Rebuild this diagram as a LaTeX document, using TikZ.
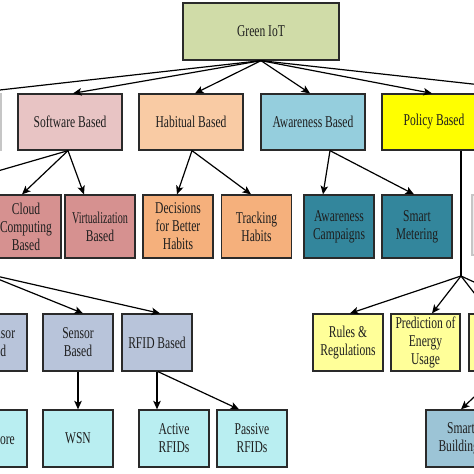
\documentclass[tikz,border=0pt]{standalone}
\usepackage{fontspec}
\setmainfont{Liberation Serif}[FakeStretch=0.7]
\usetikzlibrary{arrows.meta}
\definecolor{boxline}{HTML}{2A2A2A}
\definecolor{txt}{HTML}{1E1E1E}
\definecolor{cgreen}{HTML}{D0DCA8}
\definecolor{cpink}{HTML}{E8C4C4}
\definecolor{cpeach}{HTML}{F9CBA4}
\definecolor{cltblue}{HTML}{95CEDD}
\definecolor{cyellow}{HTML}{FFFF00}
\definecolor{crose}{HTML}{D69190}
\definecolor{corange}{HTML}{F5B07C}
\definecolor{cteal}{HTML}{33869C}
\definecolor{cgreyblue}{HTML}{B8C4DA}
\definecolor{ccyan}{HTML}{B9EEF1}
\definecolor{cltyellow}{HTML}{FFFF99}
\definecolor{csteel}{HTML}{9CC4D6}
\definecolor{cgrey}{HTML}{EDEDED}
\begin{document}
\begin{tikzpicture}[x=1pt,y=-1pt,
  box/.style={draw=boxline, line width=1.3pt, align=center, inner sep=0pt,
    text=txt, font=\fontsize{16.5}{18}\selectfont},
  faint/.style={draw=gray!45, line width=1.3pt, fill=cgrey, inner sep=0pt},
  arr/.style={line width=1.2pt, -{Stealth[length=8.5pt,width=7.5pt,inset=2pt]}},
  ln/.style={line width=1.2pt}]
\useasboundingbox (0,0) rectangle (474,474);
\clip (0,0) rectangle (474,474);
\fill[white] (0,0) rectangle (474,474);

% root
\node[box, fill=cgreen, minimum width=156pt, minimum height=57pt] (g) at (261,31.5) {Green IoT};

% row 2
\node[faint, minimum width=104pt, minimum height=56pt] (hw) at (-51,122) {};
\node[box, fill=cpink, minimum width=104pt, minimum height=56pt] (sw) at (70,122) {Software Based};
\node[box, fill=cpeach, minimum width=104pt, minimum height=56pt] (hab) at (191,122) {Habitual Based};
\node[box, fill=cltblue, minimum width=104pt, minimum height=56pt] (aw) at (313,122) {Awareness Based};
\node[box, fill=cyellow, minimum width=104pt, minimum height=56pt] (pol) at (434,122) {Policy Based};
\coordinate (rt2) at (563,94);

% row 3
\node[box, fill=crose, minimum width=70pt, minimum height=63pt] (cloud) at (26,226.5) {Cloud\\Computing\\Based};
\node[box, fill=crose, minimum width=70pt, minimum height=63pt] (virt) at (100,226.5) {\scalebox{0.88}[1]{Virtualization}\\Based};
\node[box, fill=corange, minimum width=70pt, minimum height=63pt] (dec) at (178,226.5) {Decisions\\for Better\\Habits};
\node[box, fill=corange, minimum width=70pt, minimum height=63pt] (track) at (256.5,226.5) {Tracking\\Habits};
\node[box, fill=cteal, minimum width=70pt, minimum height=63pt] (ac) at (339,226.5) {Awareness\\Campaigns};
\node[box, fill=cteal, minimum width=70pt, minimum height=63pt] (sm) at (417,226.5) {Smart\\Metering};
\node[faint, minimum width=70pt, minimum height=60pt] (gr3) at (507,225) {};
\coordinate (swl) at (-85,195);

% row 4
\node[box, fill=cgreyblue, minimum width=70pt, minimum height=57pt] (bio) at (-8,342.5) {Biosensor\\Based};
\node[box, fill=cgreyblue, minimum width=70pt, minimum height=57pt] (sens) at (78,342.5) {Sensor\\Based};
\node[box, fill=cgreyblue, minimum width=70pt, minimum height=57pt] (rfid) at (157,342.5) {RFID Based};
\node[box, fill=cltyellow, minimum width=70pt, minimum height=57pt] (rules) at (348,342.5) {Rules \&\\Regulations};
\node[box, fill=cltyellow, minimum width=69pt, minimum height=57pt] (pred) at (425.5,342.5) {Prediction of\\Energy\\Usage};
\node[box, fill=cltyellow, minimum width=70pt, minimum height=57pt] (yp) at (504,342.5) {};
\coordinate (hf) at (-17,273);
\coordinate (pf) at (461,276);
\coordinate (pr) at (543,314);

% row 5
\node[box, fill=ccyan, minimum width=70pt, minimum height=57pt] (multi) at (-8,438.5) {Multicore};
\node[box, fill=ccyan, minimum width=70pt, minimum height=57pt] (wsn) at (78,438.5) {WSN};
\node[box, fill=ccyan, minimum width=70pt, minimum height=57pt] (act) at (174,438.5) {Active\\RFIDs};
\node[box, fill=ccyan, minimum width=70pt, minimum height=57pt] (pas) at (252,438.5) {Passive\\RFIDs};
\node[box, fill=csteel, minimum width=70pt, minimum height=57pt] (sb) at (461,438.5) {Smart\\Buildings};

% connectors from root
\draw[arr] (g.south) -- ([xshift=21pt]hw.north);
\draw[arr] (g.south) -- ([xshift=3pt]sw.north);
\draw[arr] (g.south) -- ([xshift=4pt]hab.north);
\draw[arr] (g.south) -- ([xshift=-3pt]aw.north);
\draw[arr] (g.south) -- ([xshift=-2pt]pol.north);
\draw[arr] (g.south) -- (rt2);

% software
\draw[arr] ([xshift=-2pt]sw.south) -- (swl);
\draw[arr] ([xshift=-2pt]sw.south) -- ([xshift=-4pt]cloud.north);
\draw[arr] ([xshift=-2pt]sw.south) -- ([xshift=-16pt]virt.north);
% habitual
\draw[arr] ([xshift=1pt]hab.south) -- ([xshift=-1pt]dec.north);
\draw[arr] ([xshift=1pt]hab.south) -- ([xshift=-5.5pt]track.north);
% awareness
\draw[arr] ([xshift=17pt]aw.south) -- ([xshift=-16pt]ac.north);
\draw[arr] ([xshift=17pt]aw.south) -- ([xshift=-3pt]sm.north);
% policy
\draw[ln] ([xshift=27pt]pol.south) -- (pf);
\draw[arr] (pf) -- ([xshift=2pt]rules.north);
\draw[arr] (pf) -- ([xshift=6.5pt]pred.north);
\draw[arr] (pf) -- ([xshift=-14pt]yp.north);
\draw[arr] (pf) -- (pr);
\draw[arr] ([xshift=-3pt]yp.south) -- (sb.north);
% hardware
\draw[arr] (hf) -- ([xshift=5pt]sens.north);
\draw[arr] (hf) -- ([xshift=3pt]rfid.north);
\draw[arr] (sens.south) -- (wsn.north);
\draw[arr] (rfid.south) -- ([xshift=-17pt]act.north);
\draw[arr] ([xshift=1pt]rfid.south) -- ([xshift=-13pt]pas.north);
\end{tikzpicture}
\end{document}
